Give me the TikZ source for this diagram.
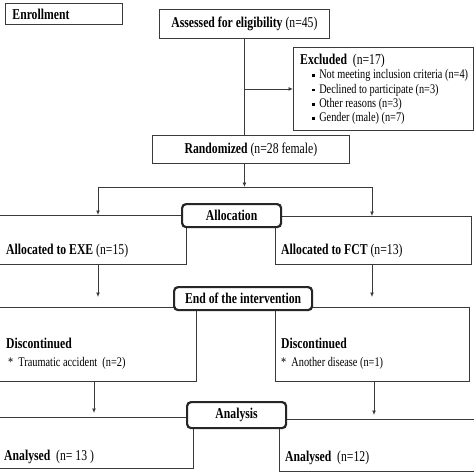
\documentclass[tikz,border=0pt]{standalone}
\usepackage{fontspec}
\setmainfont{Liberation Serif}[FakeStretch=0.78]
\usetikzlibrary{arrows.meta}
\definecolor{LineDark}{HTML}{3A3A3A}
\newcommand{\sqbul}{\rule[0.3ex]{2.6pt}{2.6pt}\hspace{4.5pt}}

\begin{document}
\begin{tikzpicture}[x=1pt, y=-1pt,
    font=\fontsize{15}{17}\selectfont,
    box/.style={rectangle, draw=LineDark, line width=0.9pt, fill=white, anchor=north west, inner sep=0pt},
    stage/.style={rectangle, rounded corners=4pt, draw=black!85, line width=2.2pt, fill=white, anchor=north west, inner sep=0pt, font=\fontsize{15}{17}\selectfont\bfseries},
    txt/.style={anchor=west, inner sep=0pt},
    small/.style={anchor=west, inner sep=0pt, font=\fontsize{13.2}{15}\selectfont},
    arrow/.style={-{Latex[length=4.5pt, width=4pt]}, line width=0.9pt, draw=LineDark},
    link/.style={line width=0.9pt, draw=LineDark}
]
\useasboundingbox[fill=white] (0,0) rectangle (474,474);

% enrollment
\node[box, minimum width=117pt, minimum height=21pt, text width=103pt, inner xsep=7pt, align=left] (enroll) at (5,3) {\textbf{Enrollment}};
\node[box, minimum width=170pt, minimum height=29pt] (assessed) at (159,9) {\textbf{Assessed for eligibility} (n=45)};
\node[box, minimum width=180pt, minimum height=83pt] (excluded) at (293,47) {};
\node[anchor=north west, inner sep=0pt, align=left, font=\fontsize{13.2}{14.3}\selectfont] (exctxt) at (300,54)
     {{\fontsize{15}{17}\selectfont\textbf{Excluded}\ \ (n=17)}\\
      \hspace{12pt}\sqbul Not meeting inclusion criteria (n=4)\\
      \hspace{12pt}\sqbul Declined to participate (n=3)\\
      \hspace{12pt}\sqbul Other reasons (n=3)\\
      \hspace{12pt}\sqbul Gender (male) (n=7)};
\node[box, minimum width=197pt, minimum height=28pt] (random) at (152,135) {\textbf{Randomized} (n=28 female)};

% allocation
\node[box, minimum width=190pt, minimum height=49pt] (exe) at (-4,215) {};
\node[box, minimum width=196pt, minimum height=48pt] (fct) at (275,216) {};
\node[stage, minimum width=99pt, minimum height=23pt] (alloc) at (181,203) {Allocation};
\node[txt] (exetxt) at (6,251) {\textbf{Allocated to EXE} (n=15)};
\node[txt] (fcttxt) at (281,251) {\textbf{Allocated to FCT} (n=13)};

% follow-up
\node[box, minimum width=200pt, minimum height=74pt] (discl) at (-4,307) {};
\node[box, minimum width=194pt, minimum height=74pt] (discr) at (275,307) {};
\node[stage, minimum width=138pt, minimum height=23pt] (endint) at (173,286) {End of the intervention};
\node[txt] (discltxt) at (6,343) {\textbf{Discontinued}};
\node[small] (disclitem) at (8,363) {*\ \ Traumatic accident\ \ (n=2)};
\node[txt] (discrtxt) at (281,343) {\textbf{Discontinued}};
\node[small] (discritem) at (281,363) {*\ \ Another disease (n=1)};

% analysis
\node[box, minimum width=197pt, minimum height=51pt] (anl) at (-4,417) {};
\node[box, minimum width=200pt, minimum height=52pt] (anr) at (279,419) {};
\node[stage, minimum width=99pt, minimum height=26pt] (analysis) at (186,401) {Analysis};
\node[txt] (anltxt) at (4,457) {\textbf{Analysed}\ \ (n= 13 )};
\node[txt] (anrtxt) at (285,458) {\textbf{Analysed}\ \ (n=12)};

\coordinate (lsplit) at (98,187);
\coordinate (rsplit) at (372,187);
\coordinate (ldisc) at (98,297);
\coordinate (rdisc) at (372,297);
\coordinate (lan) at (94,413);
\coordinate (ran) at (374,415);

\draw[link] (assessed.south) -- (assessed.south |- random.north);
\draw[arrow] (assessed.south |- excluded.west) -- (excluded.west);
\draw[arrow] (assessed.south |- random.south) -- (assessed.south |- lsplit);
\draw[link] (lsplit) -- (rsplit);
\draw[arrow] (lsplit) -- (lsplit |- exe.north);
\draw[arrow] (rsplit) -- (rsplit |- fct.north);
\draw[arrow] (ldisc |- exe.south) -- (ldisc);
\draw[arrow] (rdisc |- fct.south) -- (rdisc);
\draw[arrow] (lan |- discl.south) -- (lan);
\draw[arrow] (ran |- discr.south) -- (ran);
\end{tikzpicture}
\end{document}
